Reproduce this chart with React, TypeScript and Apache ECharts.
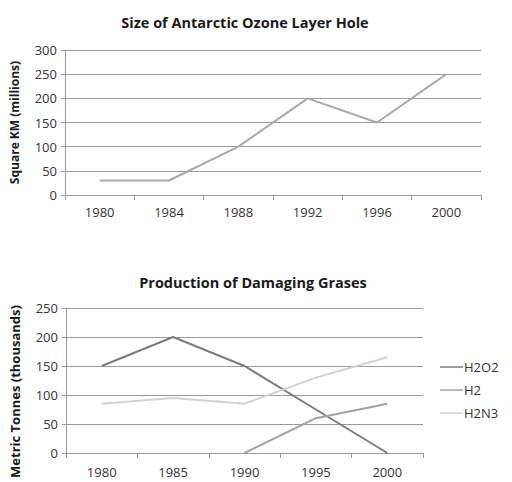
import React, { useEffect, useRef } from "react";
import * as echarts from "echarts";

const ozoneYears = ["1980", "1984", "1988", "1992", "1996", "2000"];
const ozoneValues = [30, 30, 100, 200, 150, 250];

const gasYears = ["1980", "1985", "1990", "1995", "2000"];
const h2o2Values = [150, 200, 150, 75, 0];
const h2Values: (number | null)[] = [null, null, 0, 60, 85];
const h2n3Values = [85, 95, 85, 130, 165];

const FONT = "'Open Sans', 'Noto Sans', sans-serif";
const gridColor = "#999999";
const textColor = "#333";

export default function App() {
  const ref = useRef<HTMLDivElement>(null);
  useEffect(() => {
    document.body.style.margin = "0";
    const chart = echarts.init(ref.current!, undefined, { renderer: "svg" });
    const axisCommon = {
      axisLine: { show: true, lineStyle: { color: gridColor, width: 1 } },
      axisTick: { show: true, length: 4, lineStyle: { color: gridColor } },
      splitLine: { show: true, lineStyle: { color: gridColor, width: 1 } },
      axisLabel: { color: textColor, fontFamily: FONT, fontSize: 13 },
    };
    const titleStyle = { fontFamily: FONT, fontSize: 14.5, fontWeight: "bold", color: "#1a1a1a" };
    chart.setOption({
      animation: false,
      textStyle: { fontFamily: FONT },
      title: [
        {
          text: "Size of Antarctic Ozone Layer Hole",
          left: 240,
          textAlign: "center",
          top: 10,
          textStyle: titleStyle,
        },
        {
          text: "Production of Damaging Grases",
          left: 248,
          textAlign: "center",
          top: 270,
          textStyle: titleStyle,
        },
      ],
      legend: {
        data: ["H2O2", "H2", "H2N3"],
        orient: "vertical",
        left: 440,
        top: 358,
        padding: 0,
        icon: "rect",
        itemWidth: 23,
        itemHeight: 1.5,
        itemGap: 5,
        textStyle: { fontFamily: FONT, fontSize: 13, color: textColor, lineHeight: 18, padding: [0, 0, 0, -4] },
      },
      grid: [
        { left: 58, top: 50, width: 423, height: 145 },
        { left: 58, top: 308, width: 365, height: 145 },
      ],
      xAxis: [
        {
          type: "category",
          gridIndex: 0,
          data: ozoneYears,
          boundaryGap: true,
          ...axisCommon,
          splitLine: { show: false },
          axisTick: { show: true, length: 5, lineStyle: { color: gridColor } },
          axisLabel: { ...axisCommon.axisLabel, margin: 10 },
        },
        {
          type: "category",
          gridIndex: 1,
          data: gasYears,
          boundaryGap: true,
          ...axisCommon,
          splitLine: { show: false },
          axisTick: { show: true, length: 5, lineStyle: { color: gridColor } },
          axisLabel: { ...axisCommon.axisLabel, margin: 12 },
        },
      ],
      yAxis: [
        {
          type: "value",
          gridIndex: 0,
          min: 0,
          max: 300,
          interval: 50,
          ...axisCommon,
          name: "Square KM (millions)",
          nameLocation: "middle",
          nameGap: 45,
          nameTextStyle: { fontFamily: FONT, fontSize: 12, fontWeight: "bold", color: "#1a1a1a" },
        },
        {
          type: "value",
          gridIndex: 1,
          min: 0,
          max: 250,
          interval: 50,
          ...axisCommon,
          name: "Metric Tonnes (thousands)",
          nameLocation: "middle",
          nameGap: 45,
          nameTextStyle: {
            fontFamily: FONT,
            fontSize: 13,
            fontWeight: "bold",
            color: "#1a1a1a",
            padding: [0, 22, 0, 0],
          },
        },
      ],
      series: [
        {
          name: "Ozone",
          type: "line",
          xAxisIndex: 0,
          yAxisIndex: 0,
          data: ozoneValues,
          symbol: "none",
          lineStyle: { color: "#a9a9a9", width: 2 },
          itemStyle: { color: "#a9a9a9" },
        },
        {
          name: "H2O2",
          type: "line",
          xAxisIndex: 1,
          yAxisIndex: 1,
          data: h2o2Values,
          symbol: "none",
          lineStyle: { color: "#7c7c7c", width: 2 },
          itemStyle: { color: "#7c7c7c" },
        },
        {
          name: "H2",
          type: "line",
          xAxisIndex: 1,
          yAxisIndex: 1,
          data: h2Values,
          symbol: "none",
          lineStyle: { color: "#a3a3a3", width: 2 },
          itemStyle: { color: "#a3a3a3" },
        },
        {
          name: "H2N3",
          type: "line",
          xAxisIndex: 1,
          yAxisIndex: 1,
          data: h2n3Values,
          symbol: "none",
          lineStyle: { color: "#d2d2d2", width: 2 },
          itemStyle: { color: "#d2d2d2" },
        },
      ],
    });
    return () => chart.dispose();
  }, []);
  return <div ref={ref} style={{ width: 512, height: 482 }} />;
}
